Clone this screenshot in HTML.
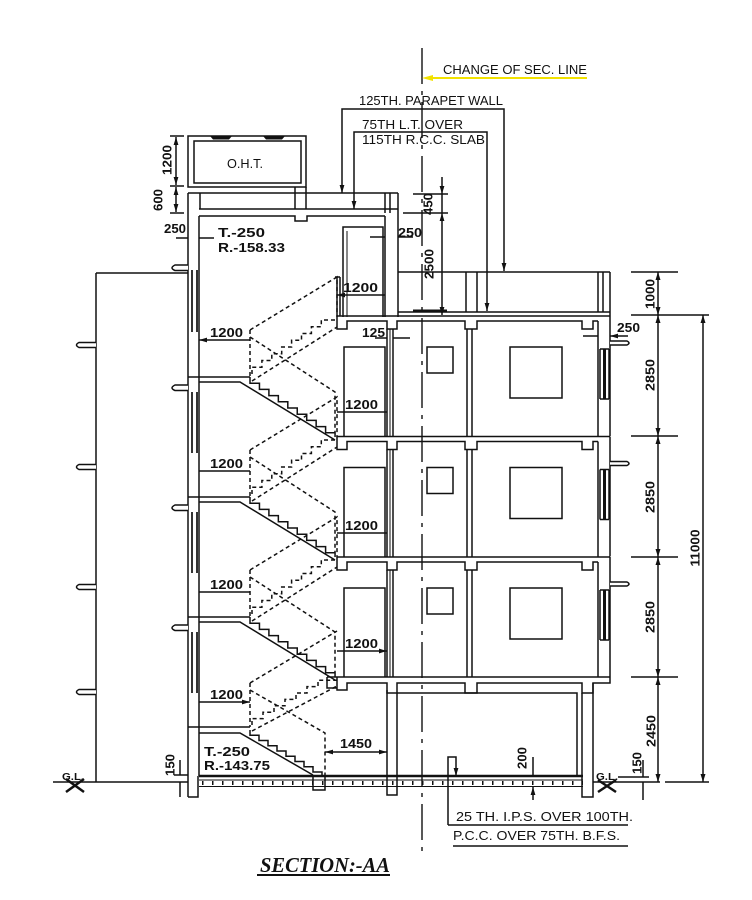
<!DOCTYPE html>
<html><head><meta charset="utf-8">
<style>
html,body{margin:0;padding:0;background:#fff;}
svg{display:block;}
text{font-family:"Liberation Sans",sans-serif;fill:#111;}
.b{font-weight:bold;font-size:13px;}
.n{font-size:12.5px;}
</style></head><body>
<svg width="752" height="900" viewBox="0 0 752 900" xmlns="http://www.w3.org/2000/svg">
<defs>
<marker id="a" viewBox="0 0 10 6" refX="10" refY="3" markerWidth="8" markerHeight="5" markerUnits="userSpaceOnUse" orient="auto-start-reverse"><path d="M0,0L10,3L0,6z" fill="#111" stroke="none"/></marker>
<g id="flr">
 <path d="M337,0H610"/>
 <path d="M337,0V13H347V5H387V13H397V5H465V13H477V5H582V13H593V5H598"/>
 <path d="M598,5V120M610,0V120"/>
 <path d="M344,120V31H385V120"/>
 <path d="M387,13V120M393,13V120"/>
 <path d="M390,13V120" stroke-width="1"/>
 <path d="M467,13V120M472,13V120"/>
 <rect x="427" y="31" width="26" height="26"/>
 <rect x="510" y="31" width="52" height="51"/>
 <path d="M600,33V83M609,33V83M600,33H609M600,83H609"/>
 <rect x="603" y="33" width="3" height="50" fill="#111" stroke="none"/>
 <path d="M610,25H627Q631,27 627,29H610" fill="#fff"/>
</g>
<g id="st">
 <path d="M188,0H250"/>
 <path d="M199,5H240L335,63"/>
 <path d="M250,0v6.2h9.45v6.2h9.45v6.2h9.45v6.2h9.45v6.2h9.45v6.2h9.45v6.2h9.45v6.2h9.45v6.2h9.45V60"/>
 <g stroke-dasharray="4 3">
  <path d="M250,-47V0"/>
  <path d="M250,-47L337,-100V-60"/>
  <path d="M250,-40L335,15V55"/>
  <path d="M252,-3v-6.75h9.9v-6.75h9.9v-6.75h9.9v-6.75h9.9v-6.75h9.9v-6.75h9.9v-6.75h9.9v-6.75h9.9H337"/>
  <path d="M252,4L337,-50"/>
 </g>
</g>
</defs>

<g stroke="#111" stroke-width="1.5" fill="none">
 <!-- centerline -->
 <path d="M422,48V853" stroke-dasharray="36 7 4 7" stroke-width="1.4"/>
 <!-- yellow change of section line -->
 <path d="M587,78H432" stroke="#f2e200" stroke-width="2"/>
 <path d="M422,78L433,75L433,81Z" fill="#f2e200" stroke="none"/>

 <!-- leaders -->
 <path d="M342,193V109H504V271" marker-start="url(#a)" marker-end="url(#a)"/>
 <path d="M354,209V132H487V311" marker-start="url(#a)" marker-end="url(#a)"/>

 <!-- OHT -->
 <rect x="188" y="136" width="118" height="51"/>
 <rect x="194" y="141" width="107" height="42"/>
 <path d="M210,136H232L229,139.5H213Z M263,136H285L282,139.5H266Z" fill="#111" stroke="none"/>
 <path d="M188,193H398"/>
 <path d="M200,193V209M295,187V209M306,187V209"/>
 <path d="M385,193V213M390,193V213M398,193V317"/>
 <path d="M199,209H398"/>
 <path d="M199,216H295V221H307V216H385"/>
 <path d="M385,216V317"/>
 <path d="M343,317V227H383V317"/>
 <path d="M347,317V231" stroke-width="1"/>
 <path d="M335,277H340M337,277V316M340,277V316"/>
 <!-- OHT dims -->
 <path d="M170,136H184M170,186H184M170,213H184"/>
 <path d="M176,137V185" marker-start="url(#a)" marker-end="url(#a)"/>
 <path d="M176,187V212" marker-start="url(#a)" marker-end="url(#a)"/>
 <!-- 450 / 2500 -->
 <path d="M413,194H448M403,213H448"/>
 <path d="M442,177V194" marker-end="url(#a)"/>
 <path d="M442,194V213"/>
 <path d="M442,213V315" marker-start="url(#a)" marker-end="url(#a)"/>

 <!-- roof parapet -->
 <path d="M398,272H610"/>
 <path d="M466,272V312M477,272V312M598,272V312M603,272V312M610,272V316"/>
 <path d="M398,312H610"/>
 <path d="M413,311H447" stroke-width="3"/>

 <!-- left neighbour -->
 <path d="M96,273V782M96,273H188"/>
 <path d="M96,342.5H79Q74,345 79,347.5H96 M96,464.5H79Q74,467 79,469.5H96 M96,584.5H79Q74,587 79,589.5H96 M96,689.5H79Q74,692 79,694.5H96" fill="#fff"/>
 <!-- left stair wall -->
 <path d="M188,193V797M199,216V776"/>
 <path d="M188,265H175Q169,268 175,270.5H188 M188,385H175Q169,388 175,390.5H188 M188,505H175Q169,508 175,510.5H188 M188,625H175Q169,628 175,630.5H188" fill="#fff"/>
 <path d="M192,270V332M197,270V332M192,392V453M197,392V453M192,512V573M197,512V573M192,632V693M197,632V693" stroke-width="1.7"/>

 <!-- floors -->
 <use href="#flr" transform="translate(0,316)"/>
 <use href="#flr" transform="translate(0,436.5)"/>
 <use href="#flr" transform="translate(0,557)"/>
 <!-- stairs -->
 <use href="#st" transform="translate(0,377)"/>
 <use href="#st" transform="translate(0,497)"/>
 <use href="#st" transform="translate(0,617)"/>

 <!-- ground stair -->
 <path d="M188,727H250"/>
 <path d="M199,733H240L313,775"/>
 <path d="M250,730v5.25h9v5.25h9v5.25h9v5.25h9v5.25h9v5.25h9v5.25h9v5.25h9V776"/>
 <g stroke-dasharray="4 3">
  <path d="M250,683V727"/>
  <path d="M250,683L337,631"/>
  <path d="M250,690L325,733V775"/>
  <path d="M252,725v-6.4h11v-6.4h11v-6.4h11v-6.4h11v-6.4h11v-6.4h11v-6.4h11H337"/>
  <path d="M252,731L337,686"/>
 </g>

 <!-- F=677 slab -->
 <path d="M327,677H610"/>
 <path d="M337,677V690H347V683H387V693H397V683H465V693H477V683H582V693H593V683H610V677"/>
 <path d="M327,677V688H337"/>
 <!-- ground floor -->
 <path d="M387,690V795H397V693"/>
 <path d="M397,693H577V776"/>
 <path d="M582,693V797H593V683"/>
 <path d="M199,776H583" stroke-width="2.4"/>
 <path d="M199,780H583M199,786.5H583" stroke-width="1"/>
 <path d="M202,783H583" stroke-width="4" stroke-dasharray="1.5 8.5"/>
 <path d="M188,797H198V776"/>
 <path d="M313,776V790H325V776"/>
 <!-- ground lines -->
 <path d="M53,782H188M593,782H660"/>
 <path d="M66,779L84,792M84,779L66,792M598,780L616,792M616,780L598,792" stroke-width="2.5"/>

 <!-- dimension lines -->
 <path d="M199,340H250M199,471H250M199,592H250M199,702H250" marker-start="url(#a)" marker-end="url(#a)"/>
 <path d="M337,295H385M337,412H387M337,533H387M337,651H387" marker-start="url(#a)" marker-end="url(#a)"/>
 <path d="M325,752H387" marker-start="url(#a)" marker-end="url(#a)"/>
 <path d="M176,238H188M214,238H199M370,237H385M413,237H398M375,338H387M410,338H393M583,336H598M628,336H610" marker-end="url(#a)"/>
 <path d="M387,333V345M393,333V345" stroke-width="1"/>
 <path d="M180,760V775M180,797V782M643,760V777M643,800V782M533,757V776M533,800V787" marker-end="url(#a)"/>
 <path d="M174,775H188M618,777H649"/>
 <!-- bottom leader -->
 <path d="M448,825V757H456V776" marker-end="url(#a)"/>
 <path d="M448,825H628M453,846H628"/>

 <!-- right dim chain -->
 <path d="M658,272V782M703,315V782"/>
 <path d="M631,272H678M631,315H709M631,436H678M631,557H678M631,677H678M665,782H709"/>
 <g fill="#111" stroke="none">
  <path d="M655.5,280L660.5,280L658,272Z"/>
  <path d="M655.5,307L660.5,307L658,315Z M655.5,323L660.5,323L658,315Z"/>
  <path d="M655.5,428L660.5,428L658,436Z M655.5,444L660.5,444L658,436Z"/>
  <path d="M655.5,549L660.5,549L658,557Z M655.5,565L660.5,565L658,557Z"/>
  <path d="M655.5,669L660.5,669L658,677Z M655.5,685L660.5,685L658,677Z"/>
  <path d="M655.5,774L660.5,774L658,782Z"/>
  <path d="M700.5,323L705.5,323L703,315Z M700.5,774L705.5,774L703,782Z"/>
 </g>
 <!-- title underline -->
 <path d="M257,875H390" stroke-width="2"/>
</g>

<!-- TEXT -->
<text class="n" x="443" y="74" textLength="144" lengthAdjust="spacingAndGlyphs">CHANGE OF SEC. LINE</text>
<text class="n" x="359" y="105" textLength="144" lengthAdjust="spacingAndGlyphs">125TH. PARAPET WALL</text>
<text class="n" x="362" y="129" textLength="101" lengthAdjust="spacingAndGlyphs">75TH L.T. OVER</text>
<text class="n" x="362" y="144" textLength="123" lengthAdjust="spacingAndGlyphs">115TH R.C.C. SLAB</text>
<text class="n" x="227" y="168" textLength="36" lengthAdjust="spacingAndGlyphs">O.H.T.</text>

<text class="b" transform="translate(167,160) rotate(-90)" x="-15" y="4.7" textLength="30" lengthAdjust="spacingAndGlyphs">1200</text>
<text class="b" transform="translate(158,200) rotate(-90)" x="-11" y="4.7" textLength="22" lengthAdjust="spacingAndGlyphs">600</text>
<text class="b" transform="translate(428,204) rotate(-90)" x="-11" y="4.7" textLength="22" lengthAdjust="spacingAndGlyphs">450</text>
<text class="b" transform="translate(429,264) rotate(-90)" x="-15" y="4.7" textLength="30" lengthAdjust="spacingAndGlyphs">2500</text>

<text class="b" x="164" y="233" textLength="22" lengthAdjust="spacingAndGlyphs">250</text>
<text class="b" x="218" y="237" textLength="47" lengthAdjust="spacingAndGlyphs">T.-250</text>
<text class="b" x="218" y="252" textLength="67" lengthAdjust="spacingAndGlyphs">R.-158.33</text>
<text class="b" x="398" y="237" textLength="24" lengthAdjust="spacingAndGlyphs">250</text>
<text class="b" x="343" y="292" textLength="35" lengthAdjust="spacingAndGlyphs">1200</text>
<text class="b" x="362" y="337" textLength="23" lengthAdjust="spacingAndGlyphs">125</text>
<text class="b" x="617" y="332" textLength="23" lengthAdjust="spacingAndGlyphs">250</text>

<text class="b" x="210" y="337" textLength="33" lengthAdjust="spacingAndGlyphs">1200</text>
<text class="b" x="210" y="468" textLength="33" lengthAdjust="spacingAndGlyphs">1200</text>
<text class="b" x="210" y="589" textLength="33" lengthAdjust="spacingAndGlyphs">1200</text>
<text class="b" x="210" y="699" textLength="33" lengthAdjust="spacingAndGlyphs">1200</text>
<text class="b" x="345" y="409" textLength="33" lengthAdjust="spacingAndGlyphs">1200</text>
<text class="b" x="345" y="530" textLength="33" lengthAdjust="spacingAndGlyphs">1200</text>
<text class="b" x="345" y="648" textLength="33" lengthAdjust="spacingAndGlyphs">1200</text>
<text class="b" x="340" y="748" textLength="32" lengthAdjust="spacingAndGlyphs">1450</text>
<text class="b" x="204" y="756" textLength="46" lengthAdjust="spacingAndGlyphs">T.-250</text>
<text class="b" x="204" y="770" textLength="66" lengthAdjust="spacingAndGlyphs">R.-143.75</text>

<text class="b" transform="translate(650,294) rotate(-90)" x="-15" y="4.7" textLength="30" lengthAdjust="spacingAndGlyphs">1000</text>
<text class="b" transform="translate(650,375) rotate(-90)" x="-16" y="4.7" textLength="32" lengthAdjust="spacingAndGlyphs">2850</text>
<text class="b" transform="translate(650,497) rotate(-90)" x="-16" y="4.7" textLength="32" lengthAdjust="spacingAndGlyphs">2850</text>
<text class="b" transform="translate(650,617) rotate(-90)" x="-16" y="4.7" textLength="32" lengthAdjust="spacingAndGlyphs">2850</text>
<text class="b" transform="translate(651,731) rotate(-90)" x="-16" y="4.7" textLength="32" lengthAdjust="spacingAndGlyphs">2450</text>
<text class="b" transform="translate(695,548) rotate(-90)" x="-18.5" y="4.7" textLength="37" lengthAdjust="spacingAndGlyphs">11000</text>
<text class="b" transform="translate(170,765) rotate(-90)" x="-11" y="4.7" textLength="22" lengthAdjust="spacingAndGlyphs">150</text>
<text class="b" transform="translate(637,763) rotate(-90)" x="-11" y="4.7" textLength="22" lengthAdjust="spacingAndGlyphs">150</text>
<text class="b" transform="translate(522,758) rotate(-90)" x="-11" y="4.7" textLength="22" lengthAdjust="spacingAndGlyphs">200</text>

<text x="62" y="780" font-size="10" font-weight="bold" textLength="22" lengthAdjust="spacingAndGlyphs">G.L.</text>
<text x="596" y="780" font-size="10" font-weight="bold" textLength="22" lengthAdjust="spacingAndGlyphs">G.L.</text>

<text class="n" x="456" y="821" textLength="177" lengthAdjust="spacingAndGlyphs">25 TH. I.P.S. OVER 100TH.</text>
<text class="n" x="453" y="840" textLength="167" lengthAdjust="spacingAndGlyphs">P.C.C. OVER 75TH. B.F.S.</text>

<text x="260" y="872" style="font-family:'Liberation Serif',serif;font-weight:bold;font-style:italic;font-size:21px;" textLength="130" lengthAdjust="spacingAndGlyphs">SECTION:-AA</text>
</svg>
</body></html>
